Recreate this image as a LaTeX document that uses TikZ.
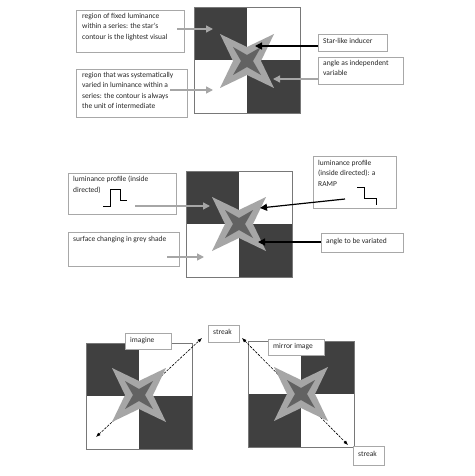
\documentclass[tikz,border=0pt]{standalone}
\usepackage{fontspec}
\setmainfont{Carlito}
\usetikzlibrary{arrows.meta}
\definecolor{darkq}{HTML}{404040}
\definecolor{starout}{HTML}{A6A6A6}
\definecolor{starin}{HTML}{626262}
\definecolor{sqb}{HTML}{787878}
\definecolor{boxc}{HTML}{A8A8A8}
\definecolor{garr}{HTML}{A6A6A6}
\definecolor{txtc}{HTML}{262626}
\newcommand\drawstar[2]{%
  \begin{scope}[shift={(#1,#2)}]
    \fill[starout] (-27,-27) -- (0,-14) -- (27,-27) -- (14,0) -- (27,27) -- (0,14) -- (-27,27) -- (-14,0) -- cycle;
    \fill[starin] (-14,-14) -- (0,-6) -- (14,-14) -- (6,0) -- (14,14) -- (0,6) -- (-14,14) -- (-6,0) -- cycle;
  \end{scope}}
\begin{document}
\begin{tikzpicture}[x=1pt,y=-1pt,
  box/.style={draw=boxc, line width=0.7pt, fill=white, anchor=north west, inner sep=0pt},
  lbl/.style={font=\fontsize{7.5}{10.5}\selectfont, text=txtc, align=left, anchor=north west, inner sep=0pt},
  garrow/.style={draw=garr, line width=1.4pt, -{Triangle[length=7pt,width=7pt]}},
  barrow/.style={draw=black, line width=1.2pt, -{Triangle[length=7pt,width=7pt]}},
  darrow/.style={draw=black, line width=0.6pt, dash pattern=on 2.5pt off 1.2pt, {Latex[length=4.5pt,width=3.5pt]}-{Latex[length=4.5pt,width=3.5pt]}},
  sqline/.style={draw=sqb, line width=0.9pt},
  icon/.style={draw=black, line width=0.8pt}]
\useasboundingbox (0,0) rectangle (474,476);
\fill[white] (0,0) rectangle (474,476);

% ---------------- Panel 1 ----------------
\begin{scope}[shift={(194,7)}]
  \fill[darkq] (0,0) rectangle (53,53);
  \fill[darkq] (53,53) rectangle (106,106);
  \draw[sqline] (0,0) rectangle (106,106);
\end{scope}
\drawstar{247}{61}

\node[box, minimum width=108, minimum height=42] (bA) at (76,10) {};
\node[lbl] (tAtext) at ([shift={(6,3)}]bA.north west) {region of fixed luminance\\within a series: the star's\\contour is the lightest visual};
\node[box, minimum width=111, minimum height=48] (bB) at (76,69) {};
\node[lbl] (tBtext) at ([shift={(6,3)}]bB.north west) {region that was systematically\\varied in luminance within a\\series: the contour is always\\the unit of intermediate};
\node[box, minimum width=69, minimum height=17] (bS) at (318,34) {};
\node[lbl] (tStext) at ([shift={(5,4)}]bS.north west) {Star-like inducer};
\node[box, minimum width=85, minimum height=27] (bV) at (318,57) {};
\node[lbl] (tVtext) at ([shift={(5,3)}]bV.north west) {angle as independent\\variable};

\coordinate (sA) at (177,29); \coordinate (eA) at (213,29);
\coordinate (sB) at (170,90); \coordinate (eB) at (213,90);
\coordinate (sS) at (318,46); \coordinate (eS) at (255,46);
\coordinate (sV) at (318,79); \coordinate (eV) at (273,79);
\draw[garrow] (sA) -- (eA);
\draw[garrow] (sB) -- (eB);
\draw[barrow] (sS) -- (eS);
\draw[garrow] (sV) -- (eV);

% ---------------- Panel 2 ----------------
\begin{scope}[shift={(186,171)}]
  \fill[darkq] (0,0) rectangle (53,53);
  \fill[darkq] (53,53) rectangle (106,106);
  \draw[sqline] (0,0) rectangle (106,106);
\end{scope}
\drawstar{239}{224}

\node[box, minimum width=108, minimum height=41] (bL) at (68,173) {};
\node[lbl] (tLtext) at ([shift={(5,3)}]bL.north west) {luminance profile (inside\\directed)};
\draw[icon] (103,206) -- (110,206) -- (110,189) -- (120,189) -- (120,200) -- (127,200);
\node[box, minimum width=111, minimum height=34] (bG) at (68,232) {};
\node[lbl] (tGtext) at ([shift={(5,4)}]bG.north west) {surface changing in grey shade};
\node[box, minimum width=83, minimum height=52] (bR) at (313,156) {};
\node[lbl] (tRtext) at ([shift={(5,4)}]bR.north west) {luminance profile\\(inside directed): a\\RAMP};
\draw[icon] (357,187) -- (364,187) -- (364,198) -- (376,198) -- (376,205);
\node[box, minimum width=82, minimum height=19] (bT) at (321,233) {};
\node[lbl] (tTtext) at ([shift={(5,5)}]bT.north west) {angle to be variated};

\coordinate (sL) at (135,206); \coordinate (eL) at (210,206);
\coordinate (sG) at (167,257); \coordinate (eG) at (204,257);
\coordinate (sR) at (345,199); \coordinate (eR) at (260,208);
\coordinate (sT) at (321,242); \coordinate (eT) at (258,242);
\draw[garrow] (sL) -- (eL);
\draw[garrow] (sG) -- (eG);
\draw[barrow] (sR) -- (eR);
\draw[barrow] (sT) -- (eT);

% ---------------- Panel 3 left ----------------
\begin{scope}[shift={(86,343)}]
  \fill[darkq] (0,0) rectangle (53,53);
  \fill[darkq] (53,53) rectangle (106,106);
  \draw[sqline] (0,0) rectangle (106,106);
\end{scope}
\coordinate (d1a) at (96,437); \coordinate (d1b) at (202,338);
\draw[darrow] (d1a) -- (d1b);
\drawstar{139}{395}
\node[box, minimum width=46, minimum height=16] (bI) at (125,333) {};
\node[lbl] (tItext) at ([shift={(5,4)}]bI.north west) {imagine};
\node[box, minimum width=31, minimum height=17] (bK1) at (208,325) {};
\node[lbl] (tK1text) at ([shift={(5,4)}]bK1.north west) {streak};

% ---------------- Panel 3 right ----------------
\begin{scope}[shift={(248,341)}]
  \fill[darkq] (53,0) rectangle (106,53);
  \fill[darkq] (0,53) rectangle (53,106);
  \draw[sqline] (0,0) rectangle (106,106);
\end{scope}
\coordinate (d2a) at (242,338); \coordinate (d2b) at (348,445);
\draw[darrow] (d2a) -- (d2b);
\drawstar{301}{394}
\node[box, minimum width=56, minimum height=16] (bM) at (268,339) {};
\node[lbl] (tMtext) at ([shift={(5,4)}]bM.north west) {mirror image};
\node[box, minimum width=31, minimum height=19] (bK2) at (353,446) {};
\node[lbl] (tK2text) at ([shift={(5,5)}]bK2.north west) {streak};
\end{tikzpicture}
\end{document}
